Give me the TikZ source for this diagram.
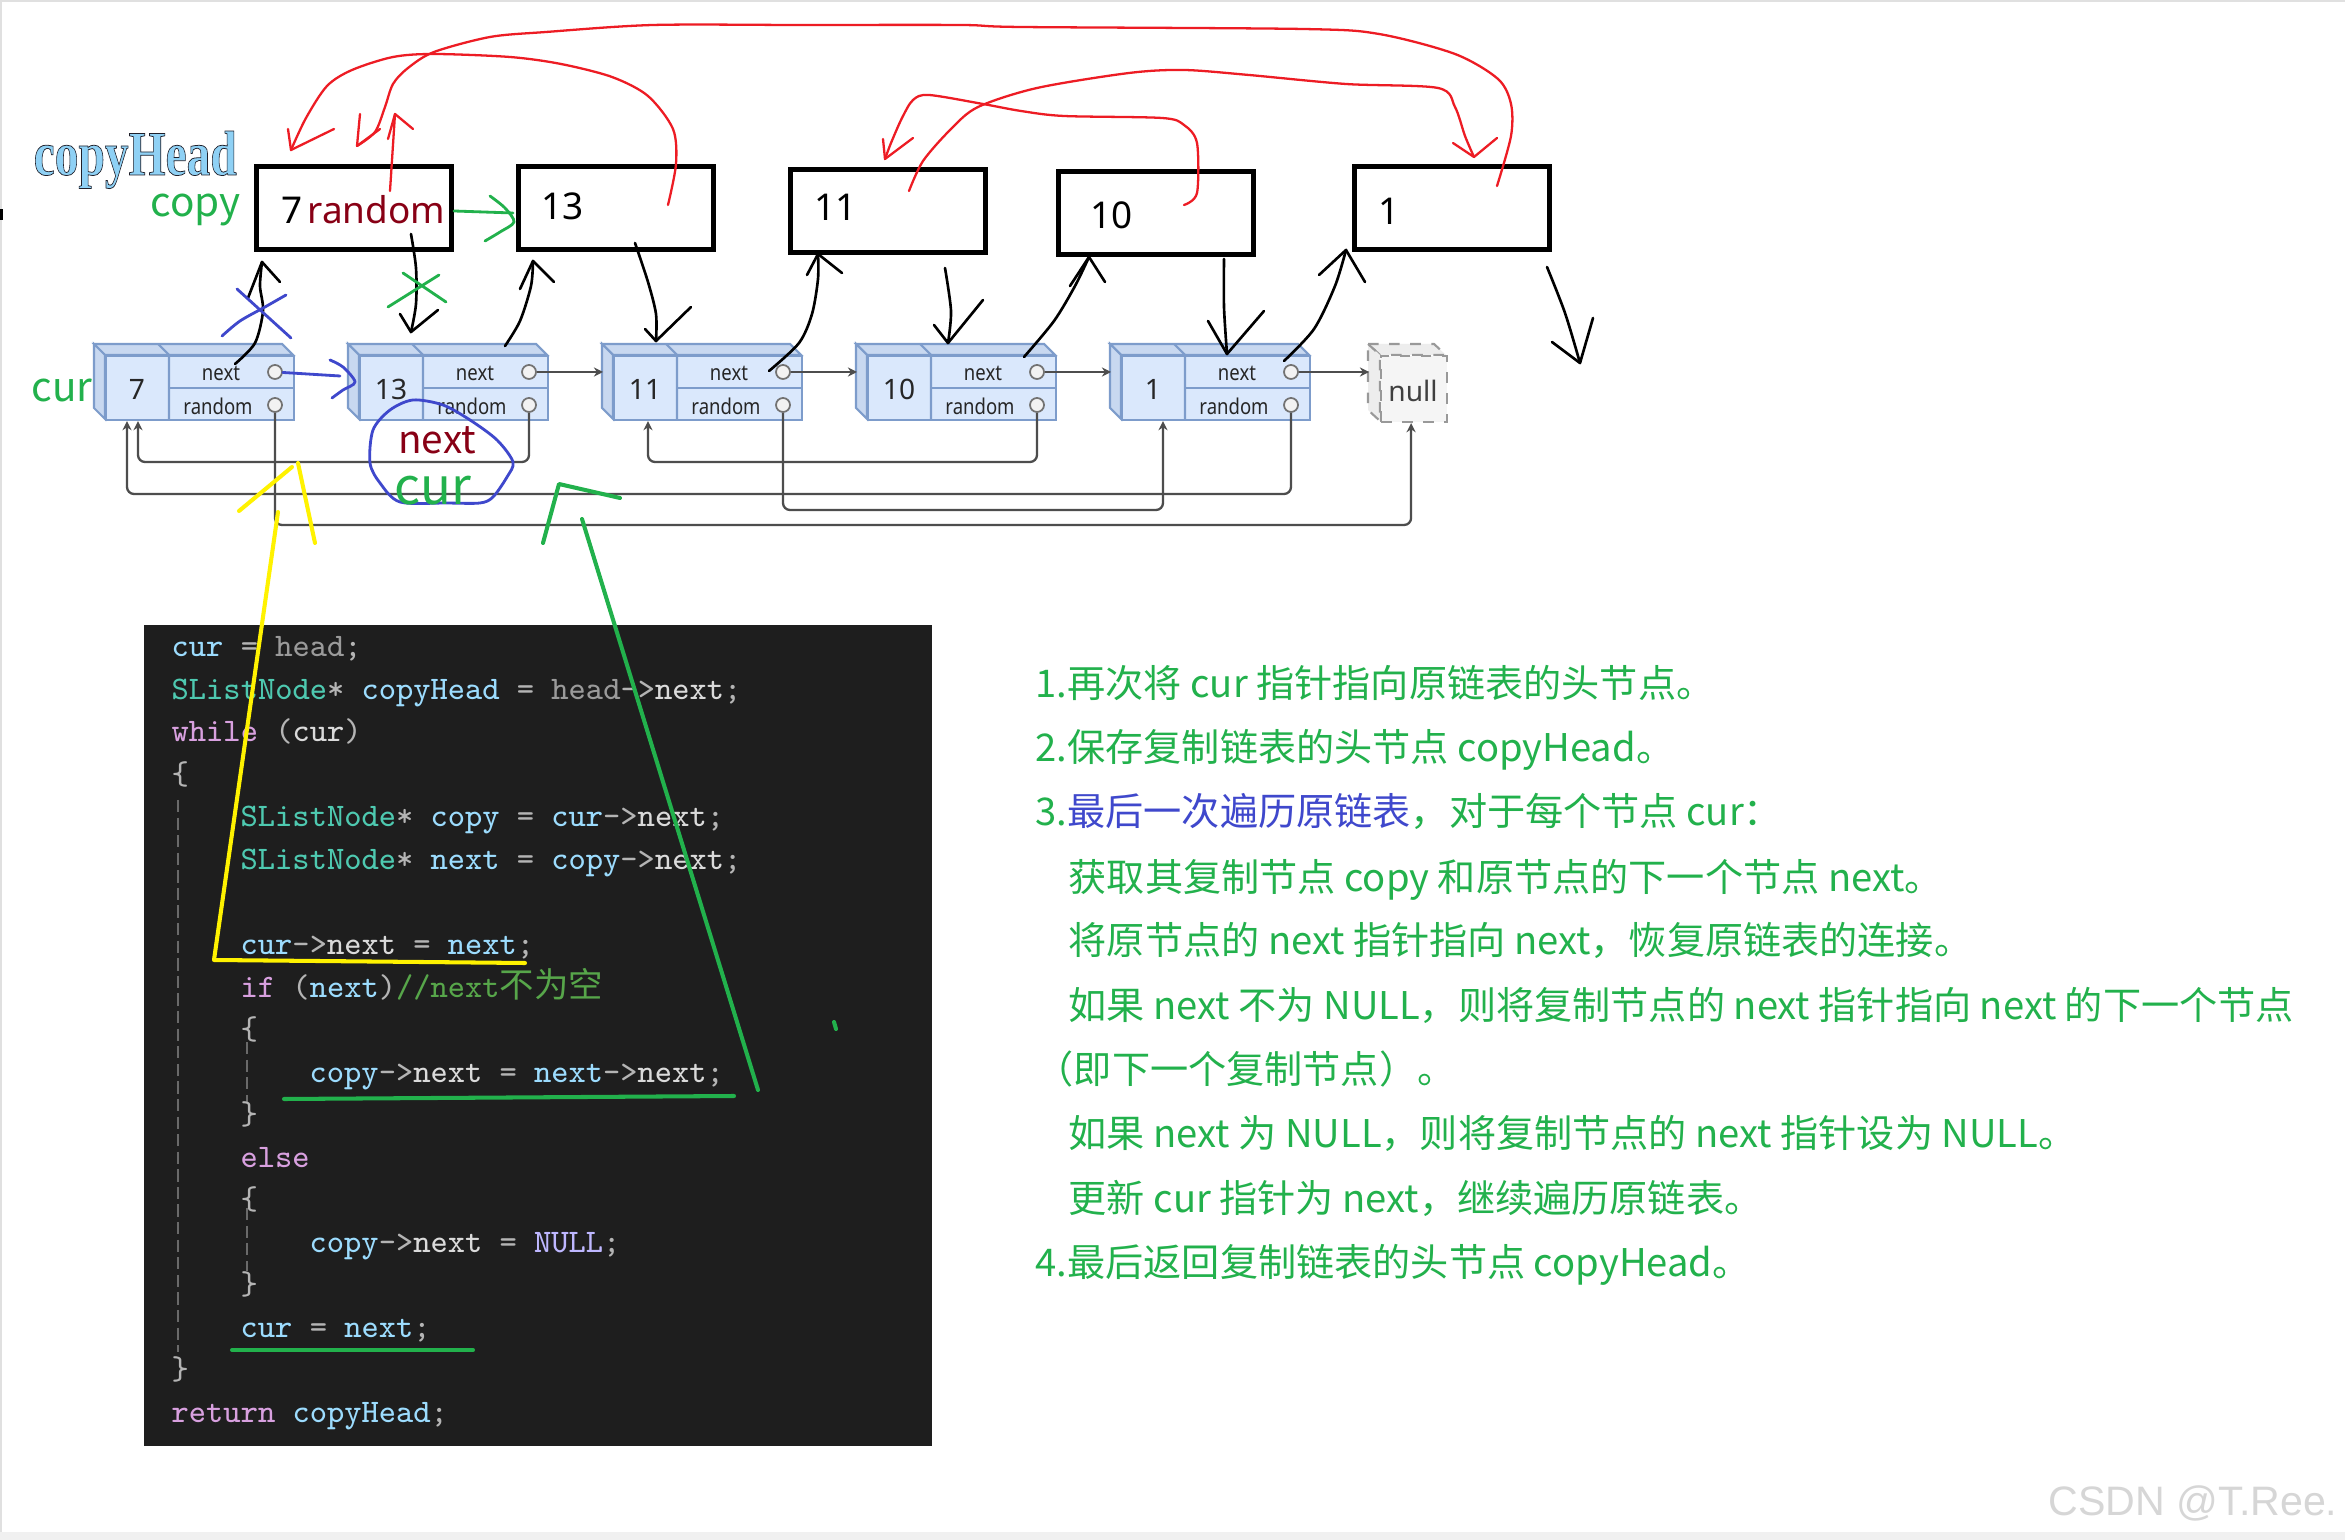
\documentclass[tikz,border=0pt]{standalone}
\usepackage{fontspec}
\setmainfont{Noto Sans}
\newfontfamily\cjk{Noto Sans CJK SC}
\newfontfamily\serifcond[UprightFont={* Bold}, FakeBold=1.2]{Liberation Serif}
\newfontfamily\wmfont{Liberation Sans}
\usetikzlibrary{arrows.meta,calc}
\definecolor{pred}{HTML}{ED1C24}
\definecolor{pgreen}{HTML}{22B14C}
\definecolor{pyellow}{HTML}{FFF200}
\definecolor{pblue}{HTML}{3F48CC}
\definecolor{dred}{HTML}{880015}
\definecolor{nodefill}{HTML}{DAE8FC}
\definecolor{nodeline}{HTML}{7D9CCB}
\definecolor{nodetop}{HTML}{C8D8F0}
\definecolor{codebg}{HTML}{1E1E1E}
\definecolor{cvar}{HTML}{9CDCFE}
\definecolor{ctype}{HTML}{4EC9B0}
\definecolor{ckw}{HTML}{D8A0DF}
\definecolor{cop}{HTML}{B4B4B4}
\definecolor{cmem}{HTML}{DADADA}
\definecolor{cparam}{HTML}{9A9A9A}
\definecolor{cmacro}{HTML}{BEB7FF}
\definecolor{ccom}{HTML}{57A64A}
\definecolor{cguide}{HTML}{6A6A6A}
\definecolor{garr}{HTML}{4D4D4D}
\newcommand\cdV[1]{\textcolor{cvar}{#1}}
\newcommand\cdT[1]{\textcolor{ctype}{#1}}
\newcommand\cdK[1]{\textcolor{ckw}{#1}}
\newcommand\cdO[1]{\textcolor{cop}{#1}}
\newcommand\cdM[1]{\textcolor{cmem}{#1}}
\newcommand\cdP[1]{\textcolor{cparam}{#1}}
\newcommand\outlinedtext[1]{\special{pdf:bcolor [0.56 0.82 0.96] [0.12 0.12 0.16]}#1\special{pdf:ecolor}}
\tikzset{
 face/.style={draw=nodeline, fill=nodefill, line width=0.6pt, inner sep=0pt},
 circ/.style={circle, draw=black!55, fill=black!5, minimum size=0.14cm, inner sep=0pt, line width=0.5pt},
 valtxt/.style={font=\fontsize{8}{9}\selectfont, text=black!85, inner sep=0pt},
 fldtxt/.style={font=\fontsize{6.2}{7}\selectfont, text=black!85, inner sep=0pt},
 garrow/.style={draw=garr, line width=0.65pt, -{Stealth[length=2.6pt,width=2.6pt]}, rounded corners=0.07cm},
 cbox/.style={draw=black, line width=1.4pt, inner sep=0pt, anchor=north west, minimum width=1.95cm, minimum height=0.83cm},
 boxnum/.style={anchor=base west, inner sep=0pt, font=\fontsize{10.5}{12}\selectfont\bfseries, text=black},
 hand/.style={draw=black, line width=0.75pt, line cap=round, line join=round},
 redhand/.style={draw=pred, line width=0.65pt, line cap=round, line join=round},
 bluehand/.style={draw=pblue, line width=0.8pt, line cap=round, line join=round},
 hlstroke/.style={line width=1.15pt, line cap=round, line join=round},
 codeline/.style={anchor=base west, inner sep=0pt, font=\fontsize{9.35}{11}\ttfamily},
 rtext/.style={anchor=base west, inner sep=0pt, font=\cjk\fontsize{10.85}{13}\selectfont, text=pgreen},
 greenlab/.style={anchor=base west, inner sep=0pt, font=\cjk\fontsize{11.5}{13}\selectfont, text=pgreen},
 chstyle/.style={anchor=base west, inner sep=0pt, font=\serifcond\fontsize{18}{20}\selectfont},
}
\begin{document}
\begin{tikzpicture}[x=0.01cm,y=-0.01cm]
\useasboundingbox (0,0) rectangle (2345,1540);
\fill[white] (0,0) rectangle (2345,1540);
\draw[black!12, line width=0.8pt] (1,1540) -- (1,1) -- (2345,1);
\fill[black!6] (0,1532) rectangle (2345,1540);
\fill[black] (0,209) rectangle (3,220);

% ---------- blue list nodes ----------
\foreach \k/\val in {1/7,2/13,3/11,4/10,5/1} {
  \pgfmathsetmacro\xo{94+254*(\k-1)}
  \filldraw[draw=nodeline, fill=nodetop, line width=0.6pt] (\xo,344) -- (\xo+188,344) -- (\xo+199,355) -- (\xo+11,355) -- cycle;
  \filldraw[draw=nodeline, fill=nodetop, line width=0.6pt] (\xo,344) -- (\xo+11,355) -- (\xo+11,419) -- (\xo,408) -- cycle;
  \node[face, anchor=north west, minimum width=1.88cm, minimum height=0.64cm] (n\k) at (\xo+11,355) {};
  \draw[nodeline, line width=0.6pt] (\xo+64,344) -- (\xo+75,355) -- (\xo+75,419);
  \draw[nodeline, line width=0.6pt] (\xo+75,388) -- (\xo+199,388);
  \node[valtxt] (v\k) at (\xo+43,389) {\val};
  \node[fldtxt] (nl\k) at (\xo+127,373) {\scalebox{0.85}[1]{next}};
  \node[fldtxt] (rl\k) at (\xo+124,406) {\scalebox{0.85}[1]{random}};
  \node[circ] (nx\k) at (\xo+181,372) {};
  \node[circ] (rd\k) at (\xo+181,405) {};
  \coordinate (in\k) at (\xo+1,372);
}
% null node
\filldraw[draw=black!40, fill=black!7, dashed, line width=0.6pt] (1368,344) -- (1434,344) -- (1446,355) -- (1380,355) -- cycle;
\filldraw[draw=black!40, fill=black!7, dashed, line width=0.6pt] (1368,344) -- (1380,355) -- (1380,421) -- (1368,410) -- cycle;
\node[draw=black!40, fill=black!4, dashed, line width=0.6pt, anchor=north west, minimum width=0.66cm, minimum height=0.66cm, inner sep=0pt] (nul) at (1380,355) {};
\node[valtxt, text=black!75] (nult) at (1413,391) {null};

% level coordinates
\coordinate (yA) at (0,462);
\coordinate (yB) at (0,494);
\coordinate (yC) at (0,510);
\coordinate (yD) at (0,525);

% next arrows
\draw[garrow] (nx2) -- (in3);
\draw[garrow] (nx3) -- (in4);
\draw[garrow] (nx4) -- (in5);
\draw[garrow] (nx5) -- ($(nul.west |- nx5)+(-11,0)$);
% random arrows
\draw[garrow] (rd2.south) |- ($(v1 |- yA)+(1,0)$) -- ($(v1 |- n1.south)+(1,0)$);
\draw[garrow] (rd5.south) |- ($(v1 |- yB)+(-10,0)$) -- ($(v1 |- n1.south)+(-10,0)$);
\draw[garrow] (rd4.south) |- ($(v3 |- yA)+(3,0)$) -- ($(v3 |- n3.south)+(3,0)$);
\draw[garrow] (rd3.south) |- ($(v5 |- yC)+(10,0)$) -- ($(v5 |- n5.south)+(10,0)$);
\draw[garrow] (rd1.south) |- ($(nul.south |- yD)+(-3,0)$) -- ($(nul.south)+(-3,0)$);

% ---------- copy boxes ----------
\node[cbox] (b1) at (254,164) {};
\node[cbox] (b2) at (516,164) {};
\node[cbox] (b3) at (788,167) {};
\node[cbox] (b4) at (1056,169) {};
\node[cbox] (b5) at (1352,164) {};
\node[boxnum] (b1n) at (281,224) {7};
\node[anchor=base west, inner sep=0pt, font=\fontsize{10.5}{12}\selectfont, text=dred] (b1r) at (307,224) {random};
\node[boxnum] (b2n) at (541,220) {13};
\node[boxnum] (b3n) at (814,221) {11};
\node[boxnum] (b4n) at (1090,229) {10};
\node[boxnum] (b5n) at (1378,225) {1};

% ---------- left labels ----------
\node[chstyle] (chead) at (33,175) {\outlinedtext{\scalebox{0.75}[1]{copyHead}}};
\node[greenlab] (lcopy) at (150,217) {copy};
\node[greenlab] (lcur) at (31,402) {cur};

% ---------- copy-box arrows (green) ----------
\draw[draw=pgreen, line width=0.8pt, line cap=round, line join=round] (b1.east |- 0,211) -- (513,213);
\draw[draw=pgreen, line width=0.8pt, line cap=round, line join=round] plot[smooth] coordinates {(490,196) (505,208) (514,222) (500,232) (485,241)};

% ---------- black hand arrows ----------
\draw[hand] plot[smooth] coordinates {(235,364) (255,343) (263,311) (260,286) (262,262)};
\draw[hand] (248,298) -- (262,262) -- (280,282);
\draw[hand] plot[smooth] coordinates {(411,234) (416,268) (416,304) (411,332)};
\draw[hand] (400,314) -- (411,332) -- (438,310);
\draw[hand] plot[smooth] coordinates {(505,346) (520,321) (531,286) (533,261)};
\draw[hand] (520,289) -- (533,261) -- (554,282);
\draw[hand] plot[smooth] coordinates {(635,243) (648,282) (656,314) (656,341)};
\draw[hand] (645,329) -- (656,341) -- (691,307);
\draw[hand] plot[smooth] coordinates {(769,371) (799,343) (812,314) (818,279) (818,254)};
\draw[hand] (807,275) -- (818,254) -- (842,273);
\draw[hand] plot[smooth] coordinates {(945,268) (951,311) (948,343)};
\draw[hand] (934,325) -- (948,343) -- (983,300);
\draw[hand] plot[smooth] coordinates {(1024,357) (1054,321) (1075,286) (1089,257)};
\draw[hand] (1070,286) -- (1089,257) -- (1105,282);
\draw[hand] plot[smooth] coordinates {(1224,259) (1224,307) (1227,354)};
\draw[hand] (1208,321) -- (1227,354) -- (1264,311);
\draw[hand] plot[smooth] coordinates {(1284,361) (1314,329) (1335,286) (1346,250)};
\draw[hand] (1319,275) -- (1346,250) -- (1365,282);
\draw[hand] plot[smooth] coordinates {(1547,267) (1565,313) (1580,363)};
\draw[hand] (1552,342) -- (1580,363) -- (1593,318);

% crosses
\draw[bluehand] (237,289) -- (291,338);
\draw[bluehand] plot[smooth] coordinates {(222,336) (240,321) (265,307) (286,295)};
\draw[draw=pgreen, line width=0.8pt, line cap=round] (403,273) -- (446,302);
\draw[draw=pgreen, line width=0.8pt, line cap=round] (388,307) -- (439,275);

% blue arrow 7 -> 13
\draw[bluehand] (nx1) -- (340,376);
\draw[bluehand] plot[smooth] coordinates {(330,360) (343,367) (355,382) (343,390) (332,398)};

% blue loop with next / cur
\draw[bluehand] plot[smooth cycle] coordinates {(413,400) (443,405) (470,420) (497,440) (513,462) (507,477) (493,497) (480,503) (447,503) (400,502) (380,483) (370,463) (373,430) (390,410)};
\node[anchor=base, inner sep=0pt, font=\cjk\fontsize{11}{13}\selectfont, text=dred] (anext) at (437,454) {next};
\node[anchor=base, inner sep=0pt, font=\cjk\fontsize{14.5}{16}\selectfont, text=pgreen] (acur) at (433,505) {cur};

% ---------- red curves ----------
\draw[redhand] plot[smooth] coordinates {(668,205) (676,164) (673,129) (648,96) (612,77) (561,64) (510,57) (434,54) (393,57) (352,70) (327,86) (306,118) (291,150)};
\draw[redhand] (288,129) -- (291,150) -- (334,129);
\draw[redhand] plot[smooth] coordinates {(1497,186) (1511,136) (1511,104) (1498,79) (1455,54) (1379,34) (1303,29) (1021,27) (961,25) (800,25) (653,25) (546,32) (490,37) (434,52) (408,68) (393,84) (385,107) (375,132) (357,146)};
\draw[redhand] (360,114) -- (357,146) -- (380,129);
\draw[redhand] (390,191) -- (395,114);
\draw[redhand] (388,139) -- (395,114) -- (413,129);
\draw[redhand] plot[smooth] coordinates {(1184,205) (1197,193) (1197,143) (1184,125) (1162,118) (1064,116) (1021,111) (983,104) (929,95) (913,100) (902,118) (891,143) (885,159)};
\draw[redhand] (883,139) -- (885,159) -- (913,138);
\draw[redhand] plot[smooth] coordinates {(909,191) (923,161) (951,129) (978,107) (1037,88) (1129,73) (1184,70) (1249,75) (1346,84) (1438,88) (1455,107) (1465,136) (1474,157)};
\draw[redhand] (1453,143) -- (1474,157) -- (1497,138);

% ---------- code panel ----------
\fill[codebg] (144,625) rectangle (932,1446);
\draw[cguide, line width=0.5pt, dash pattern=on 3.5pt off 1.5pt] (178,800) -- (178,1352);
\draw[cguide, line width=0.5pt, dash pattern=on 3.5pt off 1.5pt] (247,1042) -- (247,1102);
\draw[cguide, line width=0.5pt, dash pattern=on 3.5pt off 1.5pt] (247,1208) -- (247,1271);
\node[codeline] (c1) at (171,657) {\cdV{cur} \cdO{=} \cdP{head}\cdO{;}};
\node[codeline] (c2) at (171,699.5) {\cdT{SListNode}\cdO{*} \cdV{copyHead} \cdO{=} \cdP{head}\cdO{->}\cdM{next}\cdO{;}};
\node[codeline] (c3) at (171,742) {\cdK{while} \cdO{(}\cdM{cur}\cdO{)}};
\node[codeline] (c4) at (171,784.5) {\cdO{\{}};
\node[codeline] (c5) at (240,827) {\cdT{SListNode}\cdO{*} \cdV{copy} \cdO{=} \cdV{cur}\cdO{->}\cdM{next}\cdO{;}};
\node[codeline] (c6) at (240,869.5) {\cdT{SListNode}\cdO{*} \cdV{next} \cdO{=} \cdV{copy}\cdO{->}\cdM{next}\cdO{;}};
\node[codeline] (c8) at (240,954.5) {\cdV{cur}\cdO{->}\cdM{next} \cdO{=} \cdV{next}\cdO{;}};
\node[codeline] (c9) at (240,997) {\cdK{if} \cdO{(}\cdV{next}\cdO{)}\textcolor{ccom}{//next{\cjk\fontsize{9.8}{12}\selectfont 不为空}}};
\node[codeline] (c10) at (240,1039.5) {\cdO{\{}};
\node[codeline] (c11) at (309,1082) {\cdV{copy}\cdO{->}\cdM{next} \cdO{=} \cdV{next}\cdO{->}\cdM{next}\cdO{;}};
\node[codeline] (c12) at (240,1124.5) {\cdO{\}}};
\node[codeline] (c13) at (240,1167) {\cdK{else}};
\node[codeline] (c14) at (240,1209.5) {\cdO{\{}};
\node[codeline] (c15) at (309,1252) {\cdV{copy}\cdO{->}\cdM{next} \cdO{=} \textcolor{cmacro}{NULL}\cdO{;}};
\node[codeline] (c16) at (240,1294.5) {\cdO{\}}};
\node[codeline] (c17) at (240,1337) {\cdV{cur} \cdO{=} \cdV{next}\cdO{;}};
\node[codeline] (c18) at (171,1379.5) {\cdO{\}}};
\node[codeline] (c19) at (171,1422) {\cdK{return} \cdV{copyHead}\cdO{;}};

% ---------- yellow / green marker strokes ----------
\draw[pyellow, hlstroke] (239,511) -- (292,467);
\draw[pyellow, hlstroke] (298,463) -- (315,543);
\draw[pyellow, hlstroke] (278,512) -- (214,960) -- (525,963);
\draw[pgreen, hlstroke] (543,543) -- (559,484) -- (620,498);
\draw[pgreen, hlstroke] (582,519) -- (758,1090);
\draw[pgreen, hlstroke] (284,1099) -- (734,1096);
\draw[pgreen, hlstroke] (232,1350) -- (473,1350);
\draw[pgreen, hlstroke] (834,1022) -- (836,1029);

% ---------- explanation text ----------
\node[rtext] (t1) at (1035,698) {1.再次将 cur 指针指向原链表的头节点。};
\node[rtext] (t2) at (1035,762) {2.保存复制链表的头节点 copyHead。};
\node[rtext] (t3) at (1035,826) {3.\textcolor{pblue}{最后一次遍历原链表}，对于每个节点 cur：};
\node[rtext] (t4) at (1068,891) {获取其复制节点 copy 和原节点的下一个节点 next。};
\node[rtext] (t5) at (1068,955) {将原节点的 next 指针指向 next，恢复原链表的连接。};
\node[rtext] (t6) at (1068,1019) {如果 next 不为 NULL，则将复制节点的 next 指针指向 next 的下一个节点};
\node[rtext] (t7) at (1035,1083) {（即下一个复制节点）。};
\node[rtext] (t8) at (1068,1147) {如果 next 为 NULL，则将复制节点的 next 指针设为 NULL。};
\node[rtext] (t9) at (1068,1212) {更新 cur 指针为 next，继续遍历原链表。};
\node[rtext] (t10) at (1035,1276) {4.最后返回复制链表的头节点 copyHead。};

% ---------- watermark ----------
\node[anchor=base west, inner sep=0pt, font=\wmfont\fontsize{11.7}{14}\selectfont, text=black!16] (wm) at (2048,1515) {CSDN @T.Ree.};
\end{tikzpicture}
\end{document}
